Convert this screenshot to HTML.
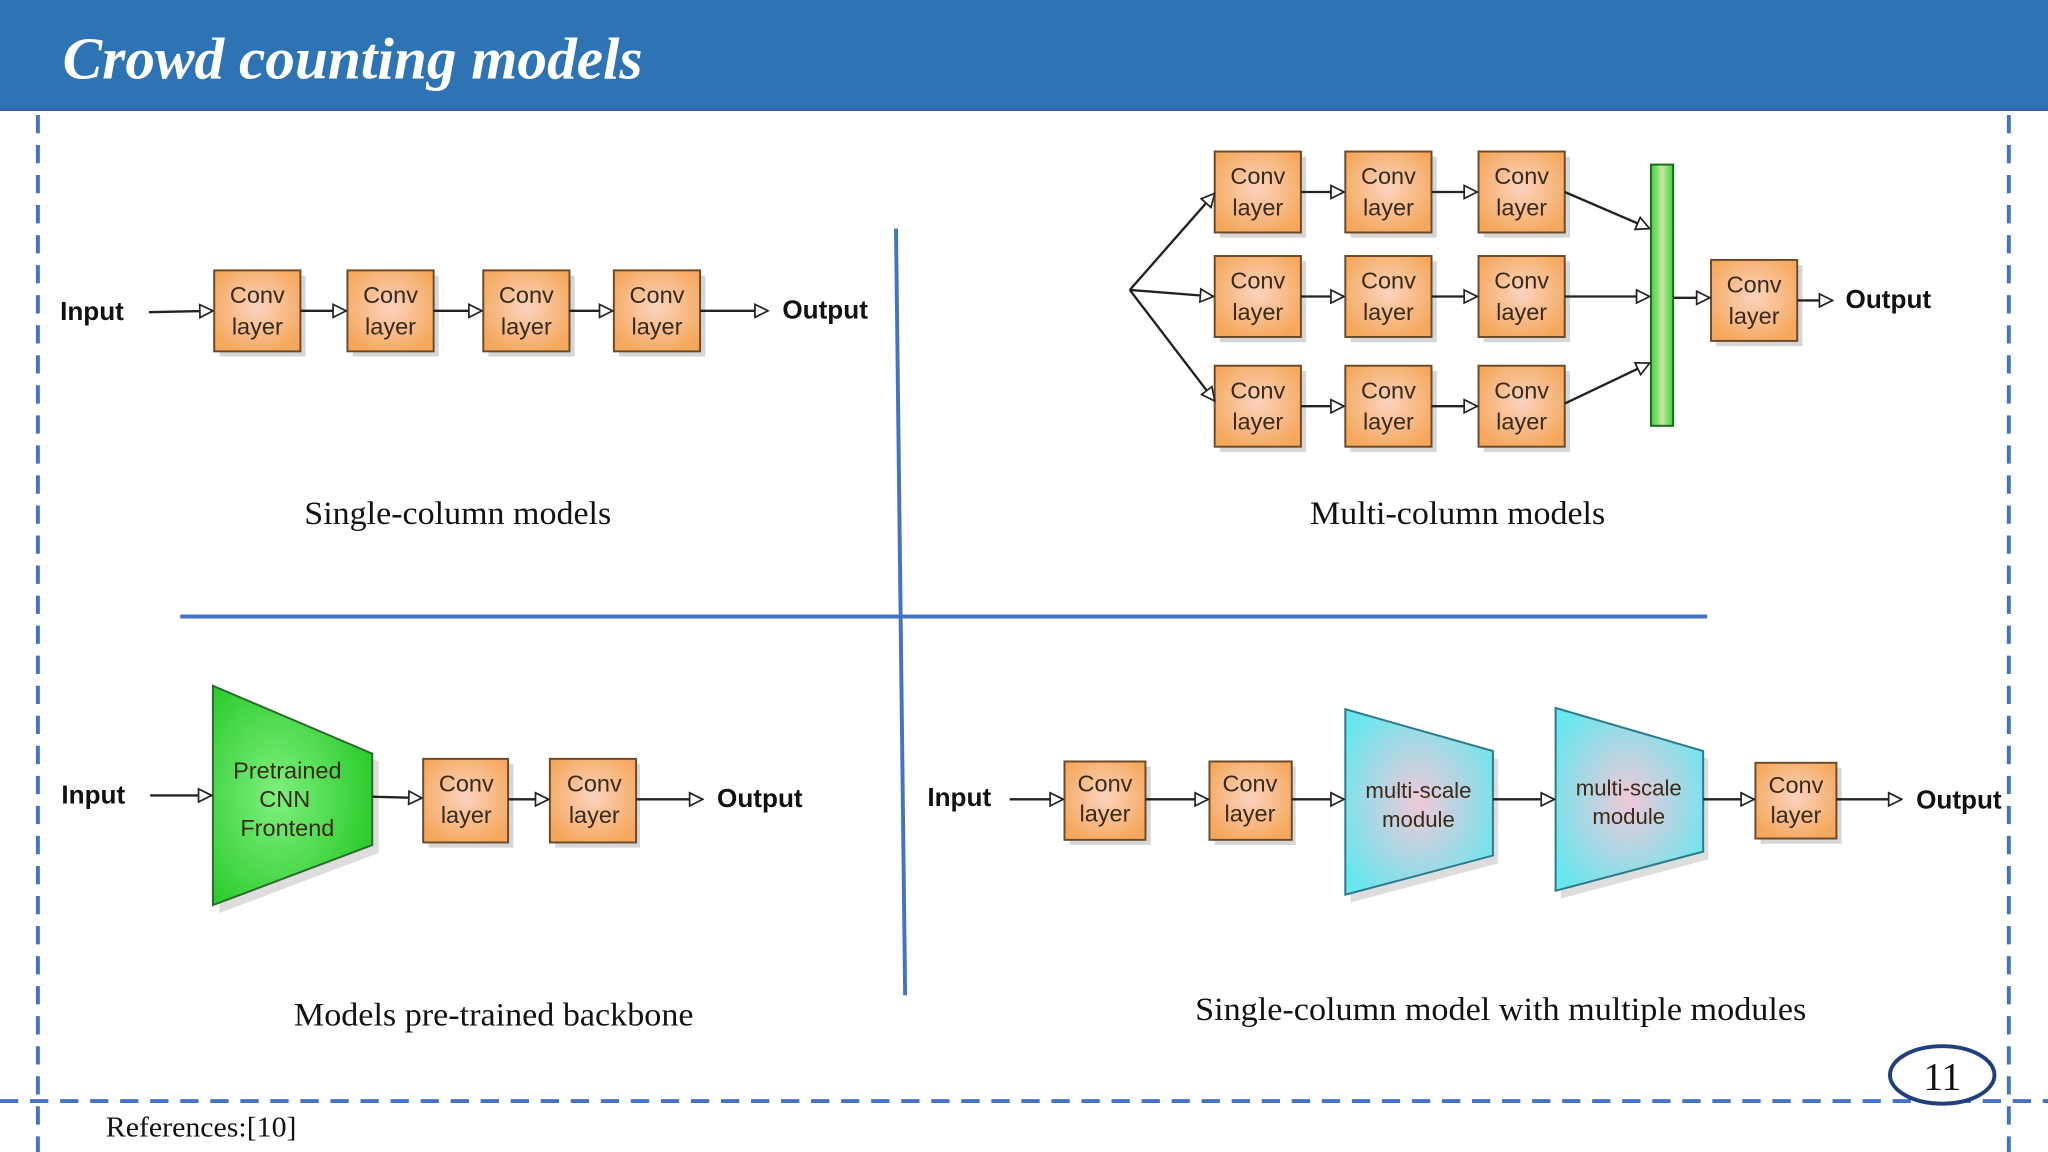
<!DOCTYPE html>
<html><head><meta charset="utf-8"><style>html,body{margin:0;padding:0;background:#fff}svg{display:block}</style></head>
<body>
<svg width="2048" height="1152" viewBox="0 0 1568 882" xmlns="http://www.w3.org/2000/svg">
<defs>
<radialGradient id="og" cx="50%" cy="45%" r="60%"><stop offset="0" stop-color="#fbd3c0"/><stop offset="1" stop-color="#f5a85c"/></radialGradient>
<linearGradient id="gg" x1="0" x2="1"><stop offset="0" stop-color="#3cd23c"/><stop offset="0.5" stop-color="#c8e8a0"/><stop offset="1" stop-color="#3cd23c"/></linearGradient>
<radialGradient id="tg" cx="40%" cy="50%" r="60%"><stop offset="0" stop-color="#7ff07f"/><stop offset="1" stop-color="#2ecc2e"/></radialGradient>
<radialGradient id="cg" cx="50%" cy="50%" r="60%"><stop offset="0" stop-color="#f0c8d8"/><stop offset="1" stop-color="#6ae6ee"/></radialGradient>
<marker id="ar" markerWidth="12" markerHeight="12" refX="11" refY="6" orient="auto" markerUnits="userSpaceOnUse"><path d="M1,1 L11,6 L1,11 Z" fill="#fff" stroke="#222" stroke-width="1.3"/></marker>
</defs>
<rect x="0" y="0" width="1568" height="84" fill="#2E74B5"/>
<line x1="0" y1="84" x2="1568" y2="84" stroke="#3a5fa8" stroke-width="2"/>
<text x="48" y="60" font-family="Liberation Serif, serif" font-style="italic" font-weight="bold" font-size="45" fill="#fff" textLength="444" lengthAdjust="spacingAndGlyphs">Crowd counting models</text>
<g stroke="#4472C4" stroke-width="3" stroke-dasharray="14,9" fill="none">
<line x1="29" y1="88" x2="29" y2="882"/>
<line x1="1538" y1="88" x2="1538" y2="882"/>
<line x1="0" y1="843" x2="1568" y2="843"/>
</g>
<g stroke="#4472C4" stroke-width="3"><line x1="686" y1="175" x2="693" y2="762"/><line x1="138" y1="472" x2="1307" y2="472"/></g>
<g font-family="Liberation Sans, sans-serif" font-size="18" fill="#3a2a1a" text-anchor="middle">
<g>
<rect x="168" y="211" width="66" height="62" fill="#bbb" opacity=".6"/><rect x="164" y="207" width="66" height="62" fill="url(#og)" stroke="#6b4a2a" stroke-width="1.5"/><text x="197" y="232">Conv</text><text x="197" y="256">layer</text>
<rect x="270" y="211" width="66" height="62" fill="#bbb" opacity=".6"/><rect x="266" y="207" width="66" height="62" fill="url(#og)" stroke="#6b4a2a" stroke-width="1.5"/><text x="299" y="232">Conv</text><text x="299" y="256">layer</text>
<rect x="374" y="211" width="66" height="62" fill="#bbb" opacity=".6"/><rect x="370" y="207" width="66" height="62" fill="url(#og)" stroke="#6b4a2a" stroke-width="1.5"/><text x="403" y="232">Conv</text><text x="403" y="256">layer</text>
<rect x="474" y="211" width="66" height="62" fill="#bbb" opacity=".6"/><rect x="470" y="207" width="66" height="62" fill="url(#og)" stroke="#6b4a2a" stroke-width="1.5"/><text x="503" y="232">Conv</text><text x="503" y="256">layer</text>
</g>
<g>
<rect x="934" y="120" width="66" height="62" fill="#bbb" opacity=".6"/><rect x="930" y="116" width="66" height="62" fill="url(#og)" stroke="#6b4a2a" stroke-width="1.5"/><text x="963" y="141">Conv</text><text x="963" y="165">layer</text>
<rect x="1034" y="120" width="66" height="62" fill="#bbb" opacity=".6"/><rect x="1030" y="116" width="66" height="62" fill="url(#og)" stroke="#6b4a2a" stroke-width="1.5"/><text x="1063" y="141">Conv</text><text x="1063" y="165">layer</text>
<rect x="1136" y="120" width="66" height="62" fill="#bbb" opacity=".6"/><rect x="1132" y="116" width="66" height="62" fill="url(#og)" stroke="#6b4a2a" stroke-width="1.5"/><text x="1165" y="141">Conv</text><text x="1165" y="165">layer</text>
<rect x="934" y="200" width="66" height="62" fill="#bbb" opacity=".6"/><rect x="930" y="196" width="66" height="62" fill="url(#og)" stroke="#6b4a2a" stroke-width="1.5"/><text x="963" y="221">Conv</text><text x="963" y="245">layer</text>
<rect x="1034" y="200" width="66" height="62" fill="#bbb" opacity=".6"/><rect x="1030" y="196" width="66" height="62" fill="url(#og)" stroke="#6b4a2a" stroke-width="1.5"/><text x="1063" y="221">Conv</text><text x="1063" y="245">layer</text>
<rect x="1136" y="200" width="66" height="62" fill="#bbb" opacity=".6"/><rect x="1132" y="196" width="66" height="62" fill="url(#og)" stroke="#6b4a2a" stroke-width="1.5"/><text x="1165" y="221">Conv</text><text x="1165" y="245">layer</text>
<rect x="934" y="284" width="66" height="62" fill="#bbb" opacity=".6"/><rect x="930" y="280" width="66" height="62" fill="url(#og)" stroke="#6b4a2a" stroke-width="1.5"/><text x="963" y="305">Conv</text><text x="963" y="329">layer</text>
<rect x="1034" y="284" width="66" height="62" fill="#bbb" opacity=".6"/><rect x="1030" y="280" width="66" height="62" fill="url(#og)" stroke="#6b4a2a" stroke-width="1.5"/><text x="1063" y="305">Conv</text><text x="1063" y="329">layer</text>
<rect x="1136" y="284" width="66" height="62" fill="#bbb" opacity=".6"/><rect x="1132" y="280" width="66" height="62" fill="url(#og)" stroke="#6b4a2a" stroke-width="1.5"/><text x="1165" y="305">Conv</text><text x="1165" y="329">layer</text>
<rect x="1314" y="203" width="66" height="62" fill="#bbb" opacity=".6"/><rect x="1310" y="199" width="66" height="62" fill="url(#og)" stroke="#6b4a2a" stroke-width="1.5"/><text x="1343" y="224">Conv</text><text x="1343" y="248">layer</text>
<rect x="1264" y="126" width="17" height="200" fill="url(#gg)" stroke="#1a6a1a" stroke-width="1.5"/>
</g>
<polygon points="168,531 290,583 290,653 168,699" fill="#bbb" opacity=".5"/>
<polygon points="163,525 285,577 285,647 163,693" fill="url(#tg)" stroke="#2a6a2a" stroke-width="1.5"/>
<text x="220" y="596">Pretrained</text><text x="218" y="618">CNN</text><text x="220" y="640">Frontend</text>
<rect x="328" y="585" width="65" height="64" fill="#bbb" opacity=".6"/><rect x="324" y="581" width="65" height="64" fill="url(#og)" stroke="#6b4a2a" stroke-width="1.5"/><text x="357" y="606">Conv</text><text x="357" y="630">layer</text>
<rect x="425" y="585" width="65" height="64" fill="#bbb" opacity=".6"/><rect x="421" y="581" width="66" height="64" fill="url(#og)" stroke="#6b4a2a" stroke-width="1.5"/><text x="455" y="606">Conv</text><text x="455" y="630">layer</text>
<rect x="819" y="587" width="62" height="60" fill="#bbb" opacity=".6"/><rect x="815" y="583" width="62" height="60" fill="url(#og)" stroke="#6b4a2a" stroke-width="1.5"/><text x="846" y="606">Conv</text><text x="846" y="629">layer</text>
<rect x="930" y="587" width="62" height="60" fill="#bbb" opacity=".6"/><rect x="926" y="583" width="63" height="60" fill="url(#og)" stroke="#6b4a2a" stroke-width="1.5"/><text x="957" y="606">Conv</text><text x="957" y="629">layer</text>
<rect x="1348" y="588" width="62" height="58" fill="#bbb" opacity=".6"/><rect x="1344" y="584" width="62" height="58" fill="url(#og)" stroke="#6b4a2a" stroke-width="1.5"/><text x="1375" y="607">Conv</text><text x="1375" y="630">layer</text>
<polygon points="1034,549 1147,581 1147,661 1034,691" fill="#bbb" opacity=".5"/>
<polygon points="1030,543 1143,575 1143,655 1030,685" fill="url(#cg)" stroke="#2a7a8a" stroke-width="1.5"/>
<text x="1086" y="611" font-size="17">multi-scale</text><text x="1086" y="633" font-size="17">module</text>
<polygon points="1195,548 1308,581 1308,658 1195,688" fill="#bbb" opacity=".5"/>
<polygon points="1191,542 1304,575 1304,652 1191,682" fill="url(#cg)" stroke="#2a7a8a" stroke-width="1.5"/>
<text x="1247" y="609" font-size="17">multi-scale</text><text x="1247" y="631" font-size="17">module</text>
</g>
<g stroke="#222" stroke-width="1.8" fill="none" marker-end="url(#ar)">
<line x1="114" y1="239" x2="163" y2="238"/><line x1="230" y1="238" x2="265" y2="238"/><line x1="332" y1="238" x2="369" y2="238"/><line x1="436" y1="238" x2="469" y2="238"/><line x1="536" y1="238" x2="588" y2="238"/>
<line x1="865" y1="222" x2="930" y2="148"/><line x1="865" y1="222" x2="929" y2="227"/><line x1="865" y1="222" x2="930" y2="307"/>
<line x1="996" y1="147" x2="1029" y2="147"/><line x1="1096" y1="147" x2="1131" y2="147"/>
<line x1="996" y1="227" x2="1029" y2="227"/><line x1="1096" y1="227" x2="1131" y2="227"/>
<line x1="996" y1="311" x2="1029" y2="311"/><line x1="1096" y1="311" x2="1131" y2="311"/>
<line x1="1198" y1="147" x2="1263" y2="175"/><line x1="1198" y1="227" x2="1263" y2="227"/><line x1="1198" y1="309" x2="1263" y2="278"/>
<line x1="1281" y1="228" x2="1309" y2="228"/><line x1="1376" y1="230" x2="1403" y2="230"/>
<line x1="115" y1="609" x2="162" y2="609"/><line x1="285" y1="610" x2="323" y2="611"/><line x1="389" y1="612" x2="420" y2="612"/><line x1="487" y1="612" x2="538" y2="612"/>
<line x1="773" y1="612" x2="814" y2="612"/><line x1="877" y1="612" x2="925" y2="612"/><line x1="989" y1="612" x2="1029" y2="612"/><line x1="1143" y1="612" x2="1190" y2="612"/><line x1="1304" y1="612" x2="1343" y2="612"/><line x1="1406" y1="612" x2="1456" y2="612"/>
</g>
<g font-family="Liberation Sans, sans-serif" font-weight="bold" font-size="20" fill="#111">
<text x="46" y="245">Input</text><text x="599" y="244">Output</text>
<text x="1413" y="236">Output</text>
<text x="47" y="615">Input</text><text x="549" y="618">Output</text>
<text x="710" y="617">Input</text><text x="1467" y="619">Output</text>
</g>
<g font-family="Liberation Serif, serif" font-size="25" fill="#111">
<text x="233" y="401" textLength="235" lengthAdjust="spacingAndGlyphs">Single-column models</text>
<text x="1003" y="401" textLength="226" lengthAdjust="spacingAndGlyphs">Multi-column models</text>
<text x="225" y="785" textLength="306" lengthAdjust="spacingAndGlyphs">Models pre-trained backbone</text>
<text x="915" y="781" textLength="468" lengthAdjust="spacingAndGlyphs">Single-column model with multiple modules</text>
</g>
<ellipse cx="1487" cy="823" rx="40" ry="22" fill="#fff" stroke="#1f3f7f" stroke-width="3"/>
<text x="1487" y="834" font-family="Liberation Serif, serif" font-size="30" text-anchor="middle" fill="#111">11</text>
<text x="81" y="870" font-family="Liberation Serif, serif" font-size="22" fill="#111" textLength="146" lengthAdjust="spacingAndGlyphs">References:[10]</text>
</svg>
</body></html>
